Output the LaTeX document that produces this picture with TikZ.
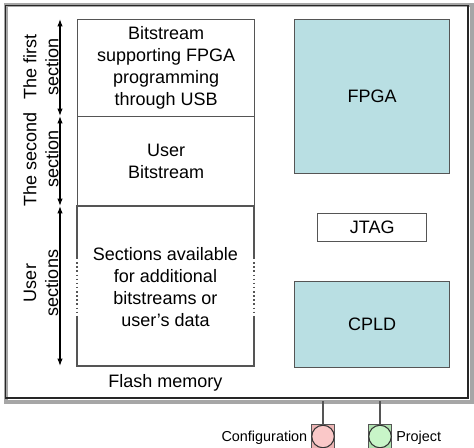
\documentclass[tikz,border=0pt]{standalone}
\usepackage{fontspec}
\setmainfont{Liberation Sans}
\usetikzlibrary{arrows.meta}
\definecolor{chipblue}{RGB}{185,223,227}
\definecolor{pinkc}{RGB}{250,200,200}
\definecolor{pinks}{RGB}{236,180,180}
\definecolor{greenc}{RGB}{200,245,200}
\definecolor{greens}{RGB}{176,226,176}
\definecolor{linegray}{RGB}{85,85,85}
\begin{document}
\begin{tikzpicture}[x=0.75pt,y=-0.75pt,
  every node/.style={font=\fontsize{13.5}{16.5}\selectfont, inner sep=0pt},
  boxline/.style={draw=linegray, line width=1.1pt},
  chip/.style={boxline, fill=chipblue, anchor=north west},
  dimarrow/.style={draw=black, line width=0.8pt, {Latex[length=5.5pt,width=4pt]}-{Latex[length=5.5pt,width=4pt]}},
  sidelabel/.style={rotate=90, align=center},
  small/.style={font=\fontsize{10.8}{13}\selectfont},
  btnsq/.style={draw=linegray, line width=0.8pt},
  btncirc/.style={circle, draw=black!80, line width=0.8pt, minimum size=22.5*0.75pt, inner sep=0pt}
  ]
\useasboundingbox (0,0) rectangle (474,448);
\begin{scope}
\clip (0,0) rectangle (474,448);
% outer frame
\node[draw=gray!70, line width=3pt, minimum width=466*0.75pt, minimum height=396*0.75pt, anchor=north west] (frame) at (3.5,3.5) {};
\draw[black!85, line width=1pt] (5.5,5.5) rectangle (468,398);
% flash memory
\node[boxline, minimum width=177*0.75pt, minimum height=97*0.75pt, anchor=north west, align=center] (sec1) at (77,19) {Bitstream\\supporting FPGA\\programming\\through USB};
\node[boxline, minimum width=177*0.75pt, minimum height=90*0.75pt, anchor=north west, align=center] (sec2) at (77,116) {User\\Bitstream};
\draw[boxline] (77,258) -- (77,206) -- (254,206) -- (254,258);
\draw[boxline, dotted, line width=1.4pt] (77,258) -- (77,316);
\draw[boxline, dotted, line width=1.4pt] (254,258) -- (254,316);
\draw[boxline] (77,316) -- (77,366) -- (254,366) -- (254,316);
\node[align=center] (sec3) at (165.5,287) {Sections available\\for additional\\bitstreams or\\user's data};
\node (flash) at (165.5,383) {Flash memory};
% dimension arrows
\coordinate (a1) at (60,19);
\coordinate (a2) at (60,116);
\coordinate (a3) at (60,206);
\coordinate (a4) at (60,366);
\draw[dimarrow] (a1) -- (a2);
\draw[dimarrow] (a2) -- (a3);
\draw[dimarrow] (a3) -- (a4);
\node[sidelabel] (l1) at (41,67) {The first\\section};
\node[sidelabel] (l2) at (41,159) {The second\\section};
\node[sidelabel] (l3) at (41,283) {User\\sections};
% chips
\node[chip, minimum width=155*0.75pt, minimum height=154*0.75pt] (fpga) at (294,19) {};
\node at (fpga.center) {FPGA};
\node[boxline, fill=white, minimum width=109*0.75pt, minimum height=28*0.75pt, anchor=north west] (jtag) at (317,213) {};
\node at (jtag.center) {JTAG};
\node[chip, minimum width=155*0.75pt, minimum height=86*0.75pt] (cpld) at (294,281) {};
\node at (cpld.center) {CPLD};
% buttons
\draw[btnsq, fill=pinks] (311.5,424.5) rectangle (334.5,452);
\draw[btnsq, fill=greens] (368.5,424.5) rectangle (391.5,452);
\node[btncirc, fill=pinkc] (cfg) at (323,436.5) {};
\node[btncirc, fill=greenc] (prj) at (380,436.5) {};
\coordinate (f1) at (323,401);
\coordinate (f2) at (380,401);
\draw[linegray, line width=1pt] (f1) -- (cfg.north);
\draw[linegray, line width=1pt] (f2) -- (prj.north);
\node[small, anchor=base east] (cfgl) at (307.5,441) {Configuration};
\node[small, anchor=base west] (prjl) at (396,441) {Project};
\end{scope}
\end{tikzpicture}
\end{document}
